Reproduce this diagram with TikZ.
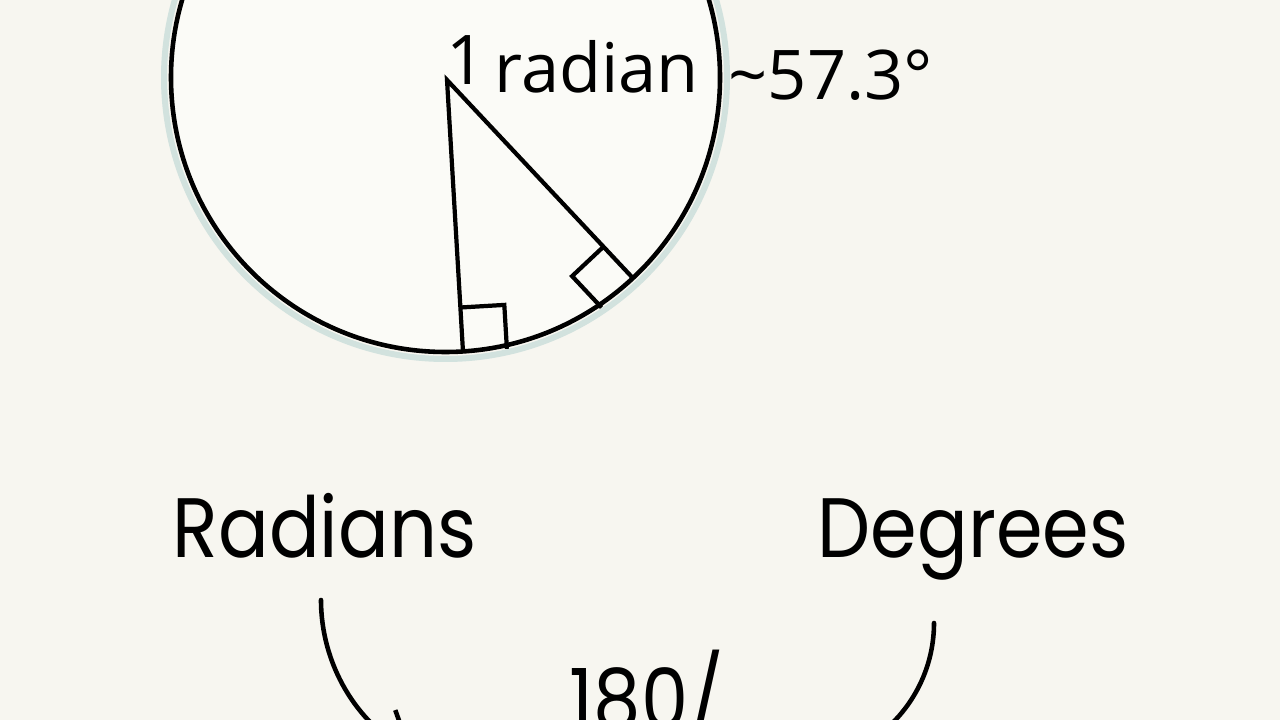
\documentclass[tikz,border=0pt]{standalone}
\usepackage{fontspec}
\usetikzlibrary{calc,arrows.meta}
\newfontfamily\radlabelfont[FakeStretch=0.89]{Poppins}
\newfontfamily\radnotefont{Open Sans}
\definecolor{radpaper}{HTML}{F7F6F0}
\definecolor{raddisc}{HTML}{FBFBF7}
\definecolor{radhalo}{HTML}{D2E2DE}
\newcommand\radnotestyle{\radnotefont\fontsize{19.5}{22}\selectfont}
\newcommand\radlabelstyle{\radlabelfont\fontsize{24}{28}\selectfont}
\newcommand\radradius{2.745}
\tikzset{
  radline/.style={line width=1.3pt, line cap=round},
  radmark/.style={line width=1.2pt, line join=miter},
  radtext/.style={inner sep=0pt, anchor=base west},
}

\begin{document}
\begin{tikzpicture}
    \useasboundingbox (0,0) rectangle (12.8,-7.2);
    \clip (0,0) rectangle (12.8,-7.2);
    \fill[radpaper] (0,0) rectangle (12.8,-7.2);
    \begin{scope}
      \coordinate (O) at (4.455,-0.775);
      \draw[radhalo, line width=.6mm] (O) circle (2.815);
      \filldraw[fill=raddisc, radline] (O) circle (\radradius);
      \coordinate (A) at (4.47,-0.80);
      \coordinate (B) at ($(O)+(-86.35:\radradius)$);
      \coordinate (C) at ($(O)+(-46.95:\radradius)$);
      \draw[radmark] (B) -- (A) -- (C);
      \coordinate (B1) at ($(B)!.44cm!(A)$);
      \coordinate (B2) at ($(B1)!.44cm!-90:(A)$);
      \coordinate (B3) at ($(B)!.44cm!-90:(A)$);
      \draw[radmark] (B1) -- (B2) -- (B3);
      \coordinate (C1) at ($(C)!.43cm!(A)$);
      \coordinate (C2) at ($(C1)!.43cm!90:(A)$);
      \coordinate (C3) at ($(C)!.43cm!90:(A)$);
      \draw[radmark] (C1) -- (C2) -- (C3);
      \node[radtext] (onerad) at (4.46,-0.93) {\radnotestyle\raisebox{.8mm}{1}\hspace{.13em}radian};
      \node[radtext] (approx) at (7.28,-1.00) {\radnotestyle\textasciitilde57.3°};
    \end{scope}
    \begin{scope}
      \node[radtext] (rad) at (1.72,-5.57) {\radlabelstyle Radians};
      \node[radtext] (deg) at (8.17,-5.57) {\radlabelstyle Degrees};
      \node[radtext] (conv) at (5.69,-7.29) {\radlabelstyle 180/};
      \coordinate (radfoot) at (3.21,-6.00);
      \coordinate (degfoot) at (9.34,-6.23);
      \draw[radline, -{Straight Barb[length=3.3mm, width=6mm]}] (radfoot) arc[start angle=180, end angle=242, radius=1.74];
      \draw[radline] (degfoot) arc[start angle=0, end angle=-60, radius=1.41];
    \end{scope}
  \end{tikzpicture}
\end{document}
